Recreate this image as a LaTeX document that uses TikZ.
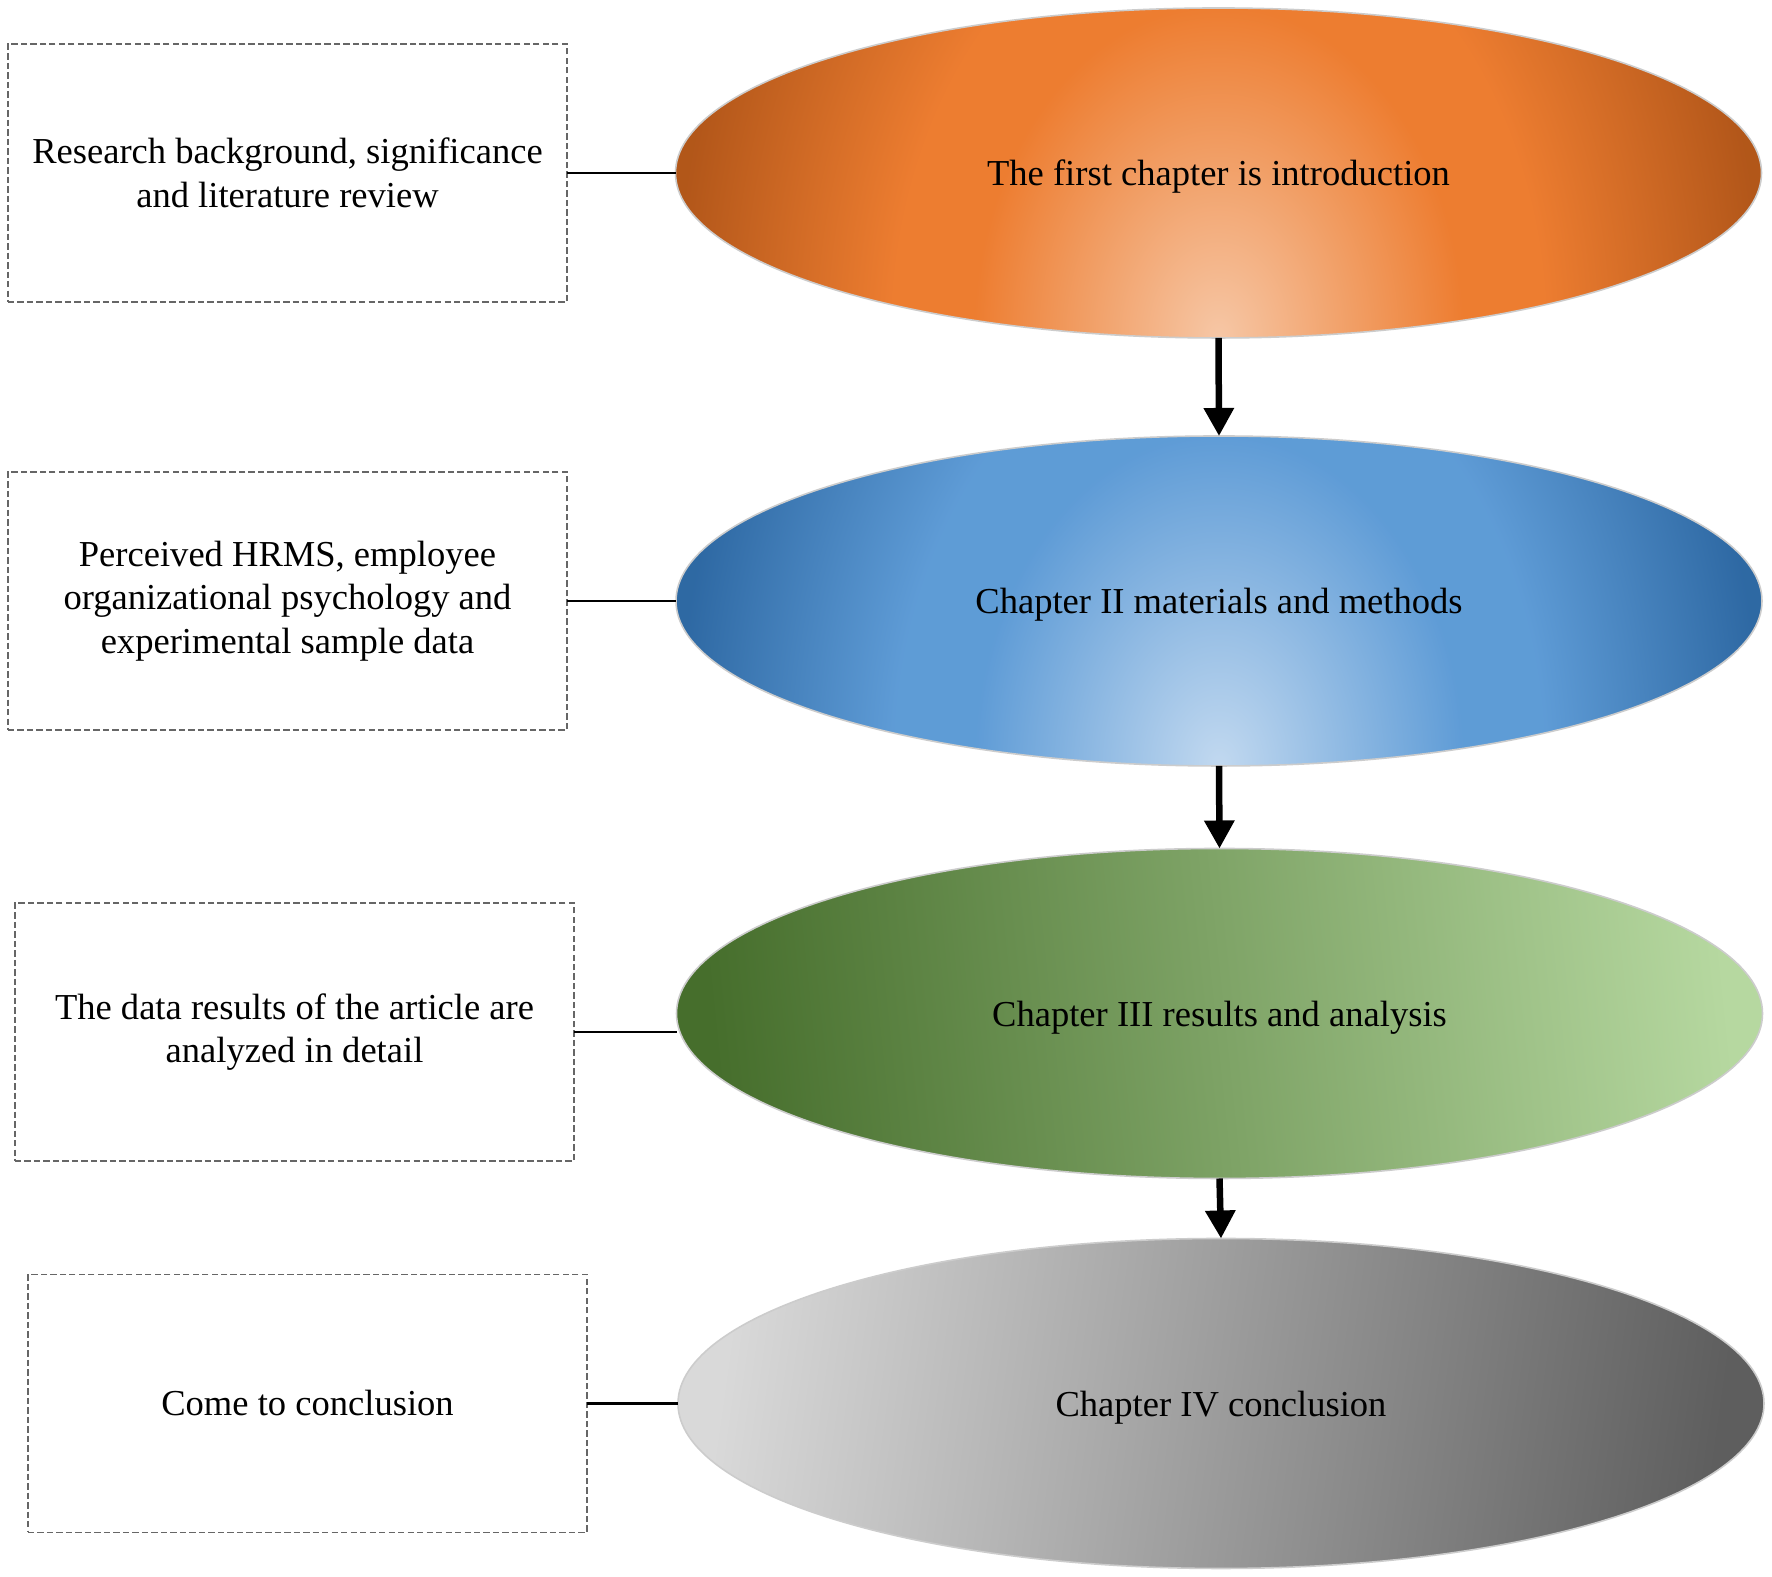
\documentclass[tikz,border=0pt]{standalone}
\usepackage{fontspec}
\setmainfont{Liberation Serif}
\usetikzlibrary{shapes.geometric,arrows.meta}

\pgfdeclarefunctionalshading{introshade}{\pgfpoint{-50bp}{-50bp}}{\pgfpoint{50bp}{50bp}}{}{
 25 add 50 div dup mul 0.2 mul exch 25 div dup mul add sqrt
 dup 0.45 div 1 2 copy gt {exch} if pop
 exch 0.6 sub 0.4 div 1 2 copy gt {exch} if pop 0 2 copy lt {exch} if pop
 1 index -0.035 mul 1 index -0.23 mul add 0.965 add
 2 index -0.29 mul 2 index -0.15 mul add 0.78 add
 3 index -0.46 mul 3 index -0.09 mul add 0.65 add
 5 -2 roll pop pop
}
\pgfdeclarefunctionalshading{methodshade}{\pgfpoint{-50bp}{-50bp}}{\pgfpoint{50bp}{50bp}}{}{
 25 add 50 div dup mul 0.2 mul exch 25 div dup mul add sqrt
 dup 0.45 div 1 2 copy gt {exch} if pop
 exch 0.6 sub 0.4 div 1 2 copy gt {exch} if pop 0 2 copy lt {exch} if pop
 1 index -0.39 mul 1 index -0.19 mul add 0.76 add
 2 index -0.24 mul 2 index -0.20 mul add 0.85 add
 3 index -0.10 mul 3 index -0.20 mul add 0.94 add
 5 -2 roll pop pop
}

\definecolor{greendark}{RGB}{70,110,44}
\definecolor{greenmid}{RGB}{114,178,72}
\definecolor{greenlight}{RGB}{182,216,160}

\tikzset{
  sidebox/.style={draw=black!60, line width=0.35pt, dash pattern=on 1.8pt off 0.9pt,
    minimum width=5.59cm, minimum height=2.58cm, inner sep=0pt, outer sep=0pt,
    align=center, font=\fontsize{10.4}{12.4}\selectfont},
  chapter/.style={ellipse, draw=black!20, line width=0.45pt, minimum width=10.86cm,
    minimum height=3.3cm, inner sep=0pt, outer sep=0pt, text depth=0pt,
    font=\fontsize{10.4}{12.4}\selectfont},
  link/.style={line width=0.7pt},
  flow/.style={line width=0.065cm, -{Triangle[width=0.29cm,length=0.28cm]}}
}

\begin{document}
\begin{tikzpicture}
\useasboundingbox[fill=white] (0,0) rectangle (17.72,15.77);

\node[chapter, shade, shading=introshade] (intro) at (12.185,14.04) {The first chapter is introduction};
\node[chapter, shade, shading=methodshade] (method) at (12.19,9.76) {Chapter II materials and methods};
\node[chapter, left color=greendark, middle color=greenmid, right color=greenlight, shading angle=96] (result) at (12.195,5.635) {Chapter III results and analysis};
\node[chapter, left color=black!15, middle color=black!33, right color=black!63, shading angle=82] (concl) at (12.21,1.735) {Chapter IV conclusion};

\node[sidebox] (review) at (2.875,14.04) {Research background, significance\\and literature review};
\node[sidebox] (hrms) at (2.875,9.76) {Perceived HRMS, employee\\organizational psychology and\\experimental sample data};
\node[sidebox] (detail) at (2.945,5.45) {The data results of the article are\\analyzed in detail};
\node[sidebox] (come) at (3.075,1.735) {Come to conclusion};

\draw[link] (review.east) -- (intro.west);
\draw[link] (hrms.east) -- (method.west);
\draw[link] (detail.east) -- (detail.east -| result.west);
\draw[link] (come.east) -- (concl.west);

\draw[flow] (intro.south) -- (method.north);
\draw[flow] (method.south) -- (result.north);
\draw[flow] (result.south) -- (concl.north);
\end{tikzpicture}
\end{document}
